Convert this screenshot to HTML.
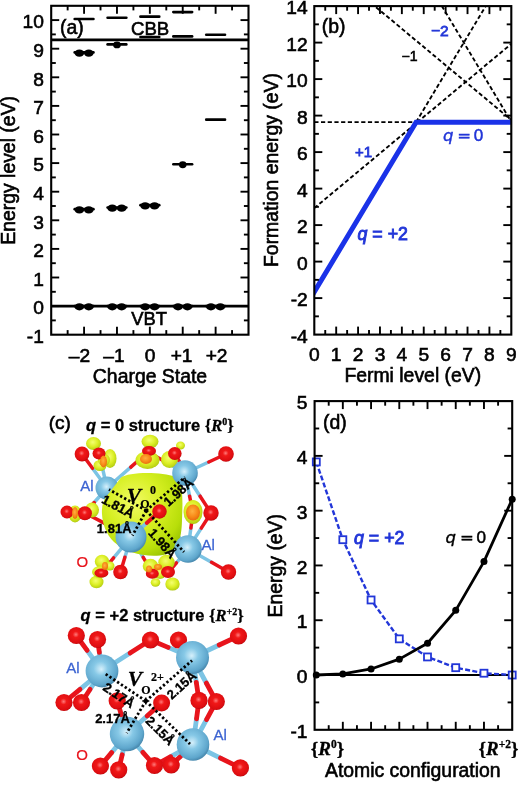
<!DOCTYPE html>
<html><head><meta charset="utf-8"><title>Figure</title>
<style>html,body{margin:0;padding:0;background:#fff;}svg{display:block;}</style></head>
<body><svg width="520" height="790" viewBox="0 0 520 790">
<rect width="520" height="790" fill="#fff"/>
<defs>
<radialGradient id="gAl" cx="0.42" cy="0.38" r="0.62" fx="0.48" fy="0.45">
 <stop offset="0" stop-color="#d6f0fb"/><stop offset="0.35" stop-color="#86c8e6"/><stop offset="0.85" stop-color="#5ea6cc"/><stop offset="1" stop-color="#4a8bb0"/></radialGradient>
<radialGradient id="gO" cx="0.45" cy="0.42" r="0.6" fx="0.48" fy="0.45">
 <stop offset="0" stop-color="#ff7a7a"/><stop offset="0.3" stop-color="#f01818"/><stop offset="0.85" stop-color="#dc0c10"/><stop offset="1" stop-color="#b20408"/></radialGradient>
<radialGradient id="gY" cx="0.45" cy="0.4" r="0.62">
 <stop offset="0" stop-color="#f4ff70"/><stop offset="0.55" stop-color="#dcef26"/><stop offset="0.9" stop-color="#bcd414"/><stop offset="1" stop-color="#a8be10"/></radialGradient>
<radialGradient id="gOr" cx="0.45" cy="0.42" r="0.6">
 <stop offset="0" stop-color="#ffb040"/><stop offset="0.6" stop-color="#f88a18"/><stop offset="1" stop-color="#e66a10"/></radialGradient>
<radialGradient id="gG" cx="0.40" cy="0.35" r="0.75">
 <stop offset="0" stop-color="#f2fb64"/><stop offset="0.45" stop-color="#d6ef22"/><stop offset="0.8" stop-color="#b8de0a"/><stop offset="1" stop-color="#96c000"/></radialGradient>
</defs>
<text x="48.8" y="429.0" font-size="19.0" font-family="'Liberation Sans', sans-serif" font-weight="normal" font-style="normal" fill="#000" text-anchor="start" stroke="#000" stroke-width="0.6">(c)</text>
<text x="86.0" y="431.2" font-size="16.5" font-family="'Liberation Sans', sans-serif" font-weight="bold" fill="#000" stroke="#000" stroke-width="0.3"><tspan font-style="italic">q</tspan> = 0 structure <tspan font-family="'Liberation Serif', serif">{<tspan font-style="italic">R</tspan><tspan font-size="10" dy="-6">0</tspan><tspan dy="6">}</tspan></tspan></text>
<text x="80.6" y="621.2" font-size="16.5" font-family="'Liberation Sans', sans-serif" font-weight="bold" fill="#000" stroke="#000" stroke-width="0.3"><tspan font-style="italic">q</tspan> = +2 structure <tspan font-family="'Liberation Serif', serif">{<tspan font-style="italic">R</tspan><tspan font-size="10" dy="-6">+2</tspan><tspan dy="6">}</tspan></tspan></text>
<line x1="107" y1="488" x2="92.5" y2="468.3" stroke="#7cc4e4" stroke-width="3.5" stroke-linecap="round"/>
<line x1="92.5" y1="468.3" x2="82" y2="454" stroke="#e8141c" stroke-width="3.5" stroke-linecap="round"/>
<line x1="107" y1="488" x2="102.4" y2="467.7" stroke="#7cc4e4" stroke-width="3.5" stroke-linecap="round"/>
<line x1="102.4" y1="467.7" x2="99" y2="453" stroke="#e8141c" stroke-width="3.5" stroke-linecap="round"/>
<line x1="107" y1="488" x2="130.8" y2="467.1" stroke="#7cc4e4" stroke-width="3.5" stroke-linecap="round"/>
<line x1="130.8" y1="467.1" x2="148" y2="452" stroke="#e8141c" stroke-width="3.5" stroke-linecap="round"/>
<line x1="107" y1="488" x2="94.2" y2="502.5" stroke="#7cc4e4" stroke-width="3.5" stroke-linecap="round"/>
<line x1="94.2" y1="502.5" x2="85" y2="513" stroke="#e8141c" stroke-width="3.5" stroke-linecap="round"/>
<line x1="185" y1="473" x2="179.2" y2="461.4" stroke="#7cc4e4" stroke-width="3.5" stroke-linecap="round"/>
<line x1="179.2" y1="461.4" x2="175" y2="453" stroke="#e8141c" stroke-width="3.5" stroke-linecap="round"/>
<line x1="185" y1="473" x2="208.8" y2="462.0" stroke="#7cc4e4" stroke-width="3.5" stroke-linecap="round"/>
<line x1="208.8" y1="462.0" x2="226" y2="454" stroke="#e8141c" stroke-width="3.5" stroke-linecap="round"/>
<line x1="185" y1="473" x2="163.5" y2="460.8" stroke="#7cc4e4" stroke-width="3.5" stroke-linecap="round"/>
<line x1="163.5" y1="460.8" x2="148" y2="452" stroke="#e8141c" stroke-width="3.5" stroke-linecap="round"/>
<line x1="185" y1="473" x2="200.1" y2="496.2" stroke="#7cc4e4" stroke-width="3.5" stroke-linecap="round"/>
<line x1="200.1" y1="496.2" x2="211" y2="513" stroke="#e8141c" stroke-width="3.5" stroke-linecap="round"/>
<line x1="185" y1="473" x2="189.6" y2="496.2" stroke="#7cc4e4" stroke-width="3.5" stroke-linecap="round"/>
<line x1="189.6" y1="496.2" x2="193" y2="513" stroke="#e8141c" stroke-width="3.5" stroke-linecap="round"/>
<line x1="131" y1="537" x2="113.6" y2="557.9" stroke="#7cc4e4" stroke-width="3.5" stroke-linecap="round"/>
<line x1="113.6" y1="557.9" x2="101" y2="573" stroke="#e8141c" stroke-width="3.5" stroke-linecap="round"/>
<line x1="131" y1="537" x2="124.9" y2="557.3" stroke="#7cc4e4" stroke-width="3.5" stroke-linecap="round"/>
<line x1="124.9" y1="557.3" x2="120.5" y2="572" stroke="#e8141c" stroke-width="3.5" stroke-linecap="round"/>
<line x1="131" y1="537" x2="104.3" y2="523.1" stroke="#7cc4e4" stroke-width="3.5" stroke-linecap="round"/>
<line x1="104.3" y1="523.1" x2="85" y2="513" stroke="#e8141c" stroke-width="3.5" stroke-linecap="round"/>
<line x1="131" y1="537" x2="147.5" y2="522.2" stroke="#7cc4e4" stroke-width="3.5" stroke-linecap="round"/>
<line x1="147.5" y1="522.2" x2="159.5" y2="511.5" stroke="#e8141c" stroke-width="3.5" stroke-linecap="round"/>
<line x1="131" y1="537" x2="143.2" y2="557.3" stroke="#7cc4e4" stroke-width="3.5" stroke-linecap="round"/>
<line x1="143.2" y1="557.3" x2="152" y2="572" stroke="#e8141c" stroke-width="3.5" stroke-linecap="round"/>
<line x1="188" y1="549" x2="211.5" y2="562.3" stroke="#7cc4e4" stroke-width="3.5" stroke-linecap="round"/>
<line x1="211.5" y1="562.3" x2="228.5" y2="572" stroke="#e8141c" stroke-width="3.5" stroke-linecap="round"/>
<line x1="188" y1="549" x2="201.3" y2="528.1" stroke="#7cc4e4" stroke-width="3.5" stroke-linecap="round"/>
<line x1="201.3" y1="528.1" x2="211" y2="513" stroke="#e8141c" stroke-width="3.5" stroke-linecap="round"/>
<line x1="188" y1="549" x2="190.9" y2="528.1" stroke="#7cc4e4" stroke-width="3.5" stroke-linecap="round"/>
<line x1="190.9" y1="528.1" x2="193" y2="513" stroke="#e8141c" stroke-width="3.5" stroke-linecap="round"/>
<line x1="188" y1="549" x2="176.4" y2="562.9" stroke="#7cc4e4" stroke-width="3.5" stroke-linecap="round"/>
<line x1="176.4" y1="562.9" x2="168" y2="573" stroke="#e8141c" stroke-width="3.5" stroke-linecap="round"/>
<line x1="188" y1="549" x2="171.5" y2="527.2" stroke="#7cc4e4" stroke-width="3.5" stroke-linecap="round"/>
<line x1="171.5" y1="527.2" x2="159.5" y2="511.5" stroke="#e8141c" stroke-width="3.5" stroke-linecap="round"/>
<ellipse cx="93.5" cy="443.5" rx="7.5" ry="6.5" fill="url(#gY)"/>
<ellipse cx="110" cy="458.5" rx="6.5" ry="9.5" fill="url(#gY)"/>
<ellipse cx="100" cy="465.5" rx="6.5" ry="5.5" fill="url(#gY)"/>
<ellipse cx="104" cy="460" rx="6" ry="6" fill="url(#gY)"/>
<ellipse cx="150" cy="441.5" rx="8.5" ry="6.8" fill="url(#gY)"/>
<ellipse cx="147.5" cy="460" rx="12" ry="9" fill="url(#gY)"/>
<ellipse cx="169.5" cy="459.5" rx="8.5" ry="8.5" fill="url(#gY)"/>
<ellipse cx="180.5" cy="445.5" rx="4.5" ry="4" fill="url(#gY)"/>
<ellipse cx="75" cy="514" rx="6.5" ry="8.5" fill="url(#gY)"/>
<ellipse cx="92" cy="510" rx="7" ry="7.5" fill="url(#gY)"/>
<ellipse cx="193" cy="512" rx="9.5" ry="12" fill="url(#gY)"/>
<ellipse cx="102" cy="561.5" rx="7.2" ry="6.8" fill="url(#gY)"/>
<ellipse cx="96.5" cy="582" rx="7" ry="6.2" fill="url(#gY)"/>
<ellipse cx="110" cy="566" rx="4.5" ry="4.5" fill="url(#gY)"/>
<ellipse cx="100" cy="572" rx="8" ry="6" fill="url(#gY)"/>
<ellipse cx="150.5" cy="566" rx="7.8" ry="7.2" fill="url(#gY)"/>
<ellipse cx="155.5" cy="582.5" rx="4.8" ry="4.2" fill="url(#gY)"/>
<ellipse cx="166.5" cy="562.5" rx="8.2" ry="7.8" fill="url(#gY)"/>
<ellipse cx="172.5" cy="584" rx="7.2" ry="6.6" fill="url(#gY)"/>
<ellipse cx="160" cy="573" rx="6" ry="6" fill="url(#gY)"/>
<circle cx="82" cy="454" r="7.4" fill="url(#gO)"/>
<circle cx="226" cy="454" r="7.8" fill="url(#gO)"/>
<circle cx="67" cy="512" r="6.5" fill="url(#gO)"/>
<circle cx="211" cy="513" r="7.7" fill="url(#gO)"/>
<circle cx="120.5" cy="572" r="7.3" fill="url(#gO)"/>
<circle cx="228.5" cy="572" r="7.7" fill="url(#gO)"/>
<ellipse cx="99" cy="453.5" rx="6.5" ry="6" fill="url(#gO)"/>
<ellipse cx="103.5" cy="461.5" rx="3.5" ry="6" fill="url(#gOr)"/>
<ellipse cx="149" cy="451" rx="7" ry="5" fill="url(#gO)"/>
<ellipse cx="146" cy="459" rx="6" ry="5" fill="url(#gOr)"/>
<ellipse cx="174.8" cy="453.5" rx="6.8" ry="6.5" fill="url(#gO)"/>
<ellipse cx="84.9" cy="513.2" rx="7" ry="7" fill="url(#gO)"/>
<ellipse cx="75" cy="513" rx="3" ry="6" fill="url(#gOr)"/>
<ellipse cx="193" cy="512.5" rx="7" ry="8" fill="url(#gOr)"/>
<ellipse cx="101.4" cy="573" rx="7" ry="4.6" fill="url(#gO)"/>
<ellipse cx="105" cy="566" rx="3" ry="4" fill="url(#gOr)"/>
<ellipse cx="152.3" cy="573.8" rx="6.5" ry="5" fill="url(#gO)"/>
<ellipse cx="168" cy="572" rx="7" ry="6" fill="url(#gO)"/>
<ellipse cx="158" cy="567" rx="4" ry="3" fill="url(#gOr)"/>
<ellipse cx="149" cy="569" rx="3" ry="3.5" fill="url(#gOr)"/>
<circle cx="107" cy="488" r="11.5" fill="url(#gAl)"/>
<path d="M102,514 C101.5,507 103,501 106,497 L121,477.5 C128,472 160,471 176,477 C184,483 182.5,505 182,520 C181.5,540 178,554 160,555.5 C142,557 126,552 114,542 C106,534 102.5,524 102,514 Z" fill="url(#gG)"/>
<line x1="131" y1="537" x2="146.7" y2="523.0" stroke="#7cc4e4" stroke-width="3.8" stroke-linecap="round"/>
<line x1="146.7" y1="523.0" x2="159.5" y2="511.5" stroke="#e8141c" stroke-width="3.8" stroke-linecap="round"/>
<circle cx="159.5" cy="511.5" r="7.2" fill="url(#gO)"/>
<circle cx="185" cy="473" r="12.8" fill="url(#gAl)"/>
<circle cx="131" cy="537" r="15.5" fill="url(#gAl)"/>
<circle cx="188" cy="549" r="13.8" fill="url(#gAl)"/>
<line x1="146.2" y1="510.5" x2="109" y2="489.5" stroke="#000" stroke-width="2.8" stroke-dasharray="2.3 2.3"/>
<line x1="146.2" y1="510.5" x2="185" y2="477.2" stroke="#000" stroke-width="2.8" stroke-dasharray="2.3 2.3"/>
<line x1="146.2" y1="510.5" x2="132.5" y2="535.5" stroke="#000" stroke-width="2.8" stroke-dasharray="2.3 2.3"/>
<line x1="146.2" y1="510.5" x2="184" y2="552" stroke="#000" stroke-width="2.8" stroke-dasharray="2.3 2.3"/>
<text x="134.0" y="502.6" font-size="21.5" font-family="'Liberation Serif', serif" font-weight="bold" font-style="italic" fill="#000" text-anchor="middle" stroke="#000" stroke-width="0.3">V</text>
<text x="153.0" y="494.4" font-size="12" font-family="'Liberation Serif', serif" font-weight="bold" font-style="normal" fill="#000" text-anchor="middle" stroke="#000" stroke-width="0.2">0</text>
<text x="144.8" y="508.0" font-size="12" font-family="'Liberation Serif', serif" font-weight="bold" font-style="normal" fill="#000" text-anchor="middle" stroke="#000" stroke-width="0.2">O</text>
<text x="116.0" y="510.5" font-size="13" font-family="'Liberation Sans', sans-serif" font-weight="bold" font-style="normal" fill="#000" text-anchor="middle" stroke="#000" stroke-width="0.35" transform="rotate(28 116.0 510.5)">1.81Å</text>
<text x="114.2" y="532.6" font-size="13" font-family="'Liberation Sans', sans-serif" font-weight="bold" font-style="normal" fill="#000" text-anchor="middle" stroke="#000" stroke-width="0.35">1.81Å</text>
<text x="181.5" y="495.5" font-size="13" font-family="'Liberation Sans', sans-serif" font-weight="bold" font-style="normal" fill="#000" text-anchor="middle" stroke="#000" stroke-width="0.35" transform="rotate(-42 181.5 495.5)">1.98Å</text>
<text x="159.0" y="546.5" font-size="13" font-family="'Liberation Sans', sans-serif" font-weight="bold" font-style="normal" fill="#000" text-anchor="middle" stroke="#000" stroke-width="0.35" transform="rotate(48 159.0 546.5)">1.98Å</text>
<text x="86.8" y="490.9" font-size="15" font-family="'Liberation Sans', sans-serif" font-weight="normal" font-style="normal" fill="#3c64d2" text-anchor="middle" stroke="#3c64d2" stroke-width="0.3">Al</text>
<text x="208.2" y="550.3" font-size="15" font-family="'Liberation Sans', sans-serif" font-weight="normal" font-style="normal" fill="#3c64d2" text-anchor="middle" stroke="#3c64d2" stroke-width="0.3">Al</text>
<text x="82.4" y="567.3" font-size="15" font-family="'Liberation Sans', sans-serif" font-weight="normal" font-style="normal" fill="#e8141c" text-anchor="middle" stroke="#e8141c" stroke-width="0.2">O</text>
<line x1="102" y1="671" x2="87.1" y2="650.4" stroke="#7cc4e4" stroke-width="4.8" stroke-linecap="round"/>
<line x1="87.1" y1="650.4" x2="76.3" y2="635.5" stroke="#e8141c" stroke-width="4.8" stroke-linecap="round"/>
<line x1="102" y1="671" x2="99.4" y2="652.7" stroke="#7cc4e4" stroke-width="4.8" stroke-linecap="round"/>
<line x1="99.4" y1="652.7" x2="97.5" y2="639.5" stroke="#e8141c" stroke-width="4.8" stroke-linecap="round"/>
<line x1="102" y1="671" x2="130.1" y2="653.0" stroke="#7cc4e4" stroke-width="4.8" stroke-linecap="round"/>
<line x1="130.1" y1="653.0" x2="150.5" y2="640" stroke="#e8141c" stroke-width="4.8" stroke-linecap="round"/>
<line x1="102" y1="671" x2="80.0" y2="689.3" stroke="#7cc4e4" stroke-width="4.8" stroke-linecap="round"/>
<line x1="80.0" y1="689.3" x2="64" y2="702.5" stroke="#e8141c" stroke-width="4.8" stroke-linecap="round"/>
<line x1="102" y1="671" x2="90.1" y2="689.3" stroke="#7cc4e4" stroke-width="4.8" stroke-linecap="round"/>
<line x1="90.1" y1="689.3" x2="81.5" y2="702.5" stroke="#e8141c" stroke-width="4.8" stroke-linecap="round"/>
<line x1="192.5" y1="657.5" x2="184.4" y2="647.4" stroke="#7cc4e4" stroke-width="4.8" stroke-linecap="round"/>
<line x1="184.4" y1="647.4" x2="178.5" y2="640" stroke="#e8141c" stroke-width="4.8" stroke-linecap="round"/>
<line x1="192.5" y1="657.5" x2="219.2" y2="645.0" stroke="#7cc4e4" stroke-width="4.8" stroke-linecap="round"/>
<line x1="219.2" y1="645.0" x2="238.5" y2="636" stroke="#e8141c" stroke-width="4.8" stroke-linecap="round"/>
<line x1="192.5" y1="657.5" x2="168.1" y2="647.4" stroke="#7cc4e4" stroke-width="4.8" stroke-linecap="round"/>
<line x1="168.1" y1="647.4" x2="150.5" y2="640" stroke="#e8141c" stroke-width="4.8" stroke-linecap="round"/>
<line x1="192.5" y1="657.5" x2="196.3" y2="682.4" stroke="#7cc4e4" stroke-width="4.8" stroke-linecap="round"/>
<line x1="196.3" y1="682.4" x2="199" y2="700.4" stroke="#e8141c" stroke-width="4.8" stroke-linecap="round"/>
<line x1="192.5" y1="657.5" x2="206.3" y2="683.0" stroke="#7cc4e4" stroke-width="4.8" stroke-linecap="round"/>
<line x1="206.3" y1="683.0" x2="216.3" y2="701.5" stroke="#e8141c" stroke-width="4.8" stroke-linecap="round"/>
<line x1="127" y1="734" x2="111.6" y2="752.6" stroke="#7cc4e4" stroke-width="4.8" stroke-linecap="round"/>
<line x1="111.6" y1="752.6" x2="100.4" y2="766" stroke="#e8141c" stroke-width="4.8" stroke-linecap="round"/>
<line x1="127" y1="734" x2="122.2" y2="754.8" stroke="#7cc4e4" stroke-width="4.8" stroke-linecap="round"/>
<line x1="122.2" y1="754.8" x2="118.7" y2="769.8" stroke="#e8141c" stroke-width="4.8" stroke-linecap="round"/>
<line x1="127" y1="734" x2="121.3" y2="714.7" stroke="#7cc4e4" stroke-width="4.8" stroke-linecap="round"/>
<line x1="121.3" y1="714.7" x2="117.2" y2="700.8" stroke="#e8141c" stroke-width="4.8" stroke-linecap="round"/>
<line x1="127" y1="734" x2="147.1" y2="716.0" stroke="#7cc4e4" stroke-width="4.8" stroke-linecap="round"/>
<line x1="147.1" y1="716.0" x2="161.6" y2="702.9" stroke="#e8141c" stroke-width="4.8" stroke-linecap="round"/>
<line x1="127" y1="734" x2="142.9" y2="752.3" stroke="#7cc4e4" stroke-width="4.8" stroke-linecap="round"/>
<line x1="142.9" y1="752.3" x2="154.5" y2="765.5" stroke="#e8141c" stroke-width="4.8" stroke-linecap="round"/>
<line x1="193" y1="744.5" x2="220.5" y2="758.1" stroke="#7cc4e4" stroke-width="4.8" stroke-linecap="round"/>
<line x1="220.5" y1="758.1" x2="240.4" y2="767.9" stroke="#e8141c" stroke-width="4.8" stroke-linecap="round"/>
<line x1="193" y1="744.5" x2="196.5" y2="718.9" stroke="#7cc4e4" stroke-width="4.8" stroke-linecap="round"/>
<line x1="196.5" y1="718.9" x2="199" y2="700.4" stroke="#e8141c" stroke-width="4.8" stroke-linecap="round"/>
<line x1="193" y1="744.5" x2="206.5" y2="719.6" stroke="#7cc4e4" stroke-width="4.8" stroke-linecap="round"/>
<line x1="206.5" y1="719.6" x2="216.3" y2="701.5" stroke="#e8141c" stroke-width="4.8" stroke-linecap="round"/>
<line x1="193" y1="744.5" x2="180.4" y2="756.4" stroke="#7cc4e4" stroke-width="4.8" stroke-linecap="round"/>
<line x1="180.4" y1="756.4" x2="171.2" y2="765" stroke="#e8141c" stroke-width="4.8" stroke-linecap="round"/>
<line x1="193" y1="744.5" x2="170.7" y2="756.7" stroke="#7cc4e4" stroke-width="4.8" stroke-linecap="round"/>
<line x1="170.7" y1="756.7" x2="154.5" y2="765.5" stroke="#e8141c" stroke-width="4.8" stroke-linecap="round"/>
<circle cx="76.3" cy="635.5" r="8.6" fill="url(#gO)"/>
<circle cx="97.5" cy="639.5" r="8.6" fill="url(#gO)"/>
<circle cx="150.5" cy="640" r="8.6" fill="url(#gO)"/>
<circle cx="178.5" cy="640" r="8.6" fill="url(#gO)"/>
<circle cx="238.5" cy="636" r="8.6" fill="url(#gO)"/>
<circle cx="64" cy="702.5" r="8.6" fill="url(#gO)"/>
<circle cx="81.5" cy="702.5" r="8.6" fill="url(#gO)"/>
<circle cx="117.2" cy="700.8" r="8.6" fill="url(#gO)"/>
<circle cx="199" cy="700.4" r="8.6" fill="url(#gO)"/>
<circle cx="216.3" cy="701.5" r="8.6" fill="url(#gO)"/>
<circle cx="100.4" cy="766" r="8.6" fill="url(#gO)"/>
<circle cx="118.7" cy="769.8" r="8.6" fill="url(#gO)"/>
<circle cx="154.5" cy="765.5" r="8.6" fill="url(#gO)"/>
<circle cx="171.2" cy="765" r="8.6" fill="url(#gO)"/>
<circle cx="240.4" cy="767.9" r="8.6" fill="url(#gO)"/>
<circle cx="102" cy="671" r="16.4" fill="url(#gAl)"/>
<circle cx="192.5" cy="657.5" r="16.5" fill="url(#gAl)"/>
<circle cx="161.6" cy="702.9" r="8.5" fill="url(#gO)"/>
<circle cx="127" cy="734" r="17.2" fill="url(#gAl)"/>
<circle cx="193" cy="744.5" r="16.3" fill="url(#gAl)"/>
<line x1="145.8" y1="701" x2="104.5" y2="673.3" stroke="#000" stroke-width="2.8" stroke-dasharray="2.3 2.3"/>
<line x1="145.8" y1="701" x2="192" y2="660.5" stroke="#000" stroke-width="2.8" stroke-dasharray="2.3 2.3"/>
<line x1="145.8" y1="701" x2="126.7" y2="733" stroke="#000" stroke-width="2.8" stroke-dasharray="2.3 2.3"/>
<line x1="145.8" y1="701" x2="190" y2="744" stroke="#000" stroke-width="2.8" stroke-dasharray="2.3 2.3"/>
<path d="M142.3,701 h7 M145.8,697.5 v7" stroke="#000" stroke-width="1.6"/>
<text x="135.0" y="686.0" font-size="21.5" font-family="'Liberation Serif', serif" font-weight="bold" font-style="italic" fill="#000" text-anchor="middle" stroke="#000" stroke-width="0.3">V</text>
<text x="157.5" y="680.5" font-size="12" font-family="'Liberation Serif', serif" font-weight="bold" font-style="normal" fill="#000" text-anchor="middle" stroke="#000" stroke-width="0.2">2+</text>
<text x="145.8" y="693.5" font-size="12" font-family="'Liberation Serif', serif" font-weight="bold" font-style="normal" fill="#000" text-anchor="middle" stroke="#000" stroke-width="0.2">O</text>
<text x="116.4" y="699.1" font-size="13" font-family="'Liberation Sans', sans-serif" font-weight="bold" font-style="normal" fill="#000" text-anchor="middle" stroke="#000" stroke-width="0.35" transform="rotate(34 116.4 699.1)">2.17Å</text>
<text x="112.5" y="723.0" font-size="13" font-family="'Liberation Sans', sans-serif" font-weight="bold" font-style="normal" fill="#000" text-anchor="middle" stroke="#000" stroke-width="0.35">2.17Å</text>
<text x="184.6" y="688.5" font-size="13" font-family="'Liberation Sans', sans-serif" font-weight="bold" font-style="normal" fill="#000" text-anchor="middle" stroke="#000" stroke-width="0.35" transform="rotate(-42 184.6 688.5)">2.15Å</text>
<text x="157.0" y="734.0" font-size="13" font-family="'Liberation Sans', sans-serif" font-weight="bold" font-style="normal" fill="#000" text-anchor="middle" stroke="#000" stroke-width="0.35" transform="rotate(45 157.0 734.0)">2.15Å</text>
<text x="73.0" y="672.7" font-size="15" font-family="'Liberation Sans', sans-serif" font-weight="normal" font-style="normal" fill="#3c64d2" text-anchor="middle" stroke="#3c64d2" stroke-width="0.3">Al</text>
<text x="220.2" y="740.4" font-size="15" font-family="'Liberation Sans', sans-serif" font-weight="normal" font-style="normal" fill="#3c64d2" text-anchor="middle" stroke="#3c64d2" stroke-width="0.3">Al</text>
<text x="82.1" y="759.8" font-size="15" font-family="'Liberation Sans', sans-serif" font-weight="normal" font-style="normal" fill="#e8141c" text-anchor="middle" stroke="#e8141c" stroke-width="0.2">O</text>
<line x1="67.64" y1="334.70" x2="67.64" y2="330.10" stroke="#000" stroke-width="1.9"/>
<line x1="67.64" y1="5.80" x2="67.64" y2="10.40" stroke="#000" stroke-width="1.9"/>
<line x1="84.08" y1="334.70" x2="84.08" y2="326.70" stroke="#000" stroke-width="1.9"/>
<line x1="84.08" y1="5.80" x2="84.08" y2="13.80" stroke="#000" stroke-width="1.9"/>
<line x1="100.53" y1="334.70" x2="100.53" y2="330.10" stroke="#000" stroke-width="1.9"/>
<line x1="100.53" y1="5.80" x2="100.53" y2="10.40" stroke="#000" stroke-width="1.9"/>
<line x1="116.97" y1="334.70" x2="116.97" y2="326.70" stroke="#000" stroke-width="1.9"/>
<line x1="116.97" y1="5.80" x2="116.97" y2="13.80" stroke="#000" stroke-width="1.9"/>
<line x1="133.41" y1="334.70" x2="133.41" y2="330.10" stroke="#000" stroke-width="1.9"/>
<line x1="133.41" y1="5.80" x2="133.41" y2="10.40" stroke="#000" stroke-width="1.9"/>
<line x1="149.85" y1="334.70" x2="149.85" y2="326.70" stroke="#000" stroke-width="1.9"/>
<line x1="149.85" y1="5.80" x2="149.85" y2="13.80" stroke="#000" stroke-width="1.9"/>
<line x1="166.29" y1="334.70" x2="166.29" y2="330.10" stroke="#000" stroke-width="1.9"/>
<line x1="166.29" y1="5.80" x2="166.29" y2="10.40" stroke="#000" stroke-width="1.9"/>
<line x1="182.73" y1="334.70" x2="182.73" y2="326.70" stroke="#000" stroke-width="1.9"/>
<line x1="182.73" y1="5.80" x2="182.73" y2="13.80" stroke="#000" stroke-width="1.9"/>
<line x1="199.18" y1="334.70" x2="199.18" y2="330.10" stroke="#000" stroke-width="1.9"/>
<line x1="199.18" y1="5.80" x2="199.18" y2="10.40" stroke="#000" stroke-width="1.9"/>
<line x1="215.62" y1="334.70" x2="215.62" y2="326.70" stroke="#000" stroke-width="1.9"/>
<line x1="215.62" y1="5.80" x2="215.62" y2="13.80" stroke="#000" stroke-width="1.9"/>
<line x1="232.06" y1="334.70" x2="232.06" y2="330.10" stroke="#000" stroke-width="1.9"/>
<line x1="232.06" y1="5.80" x2="232.06" y2="10.40" stroke="#000" stroke-width="1.9"/>
<line x1="51.20" y1="320.40" x2="55.80" y2="320.40" stroke="#000" stroke-width="1.9"/>
<line x1="248.50" y1="320.40" x2="243.90" y2="320.40" stroke="#000" stroke-width="1.9"/>
<line x1="51.20" y1="306.10" x2="59.20" y2="306.10" stroke="#000" stroke-width="1.9"/>
<line x1="248.50" y1="306.10" x2="240.50" y2="306.10" stroke="#000" stroke-width="1.9"/>
<line x1="51.20" y1="291.80" x2="55.80" y2="291.80" stroke="#000" stroke-width="1.9"/>
<line x1="248.50" y1="291.80" x2="243.90" y2="291.80" stroke="#000" stroke-width="1.9"/>
<line x1="51.20" y1="277.50" x2="59.20" y2="277.50" stroke="#000" stroke-width="1.9"/>
<line x1="248.50" y1="277.50" x2="240.50" y2="277.50" stroke="#000" stroke-width="1.9"/>
<line x1="51.20" y1="263.20" x2="55.80" y2="263.20" stroke="#000" stroke-width="1.9"/>
<line x1="248.50" y1="263.20" x2="243.90" y2="263.20" stroke="#000" stroke-width="1.9"/>
<line x1="51.20" y1="248.90" x2="59.20" y2="248.90" stroke="#000" stroke-width="1.9"/>
<line x1="248.50" y1="248.90" x2="240.50" y2="248.90" stroke="#000" stroke-width="1.9"/>
<line x1="51.20" y1="234.60" x2="55.80" y2="234.60" stroke="#000" stroke-width="1.9"/>
<line x1="248.50" y1="234.60" x2="243.90" y2="234.60" stroke="#000" stroke-width="1.9"/>
<line x1="51.20" y1="220.30" x2="59.20" y2="220.30" stroke="#000" stroke-width="1.9"/>
<line x1="248.50" y1="220.30" x2="240.50" y2="220.30" stroke="#000" stroke-width="1.9"/>
<line x1="51.20" y1="206.00" x2="55.80" y2="206.00" stroke="#000" stroke-width="1.9"/>
<line x1="248.50" y1="206.00" x2="243.90" y2="206.00" stroke="#000" stroke-width="1.9"/>
<line x1="51.20" y1="191.70" x2="59.20" y2="191.70" stroke="#000" stroke-width="1.9"/>
<line x1="248.50" y1="191.70" x2="240.50" y2="191.70" stroke="#000" stroke-width="1.9"/>
<line x1="51.20" y1="177.40" x2="55.80" y2="177.40" stroke="#000" stroke-width="1.9"/>
<line x1="248.50" y1="177.40" x2="243.90" y2="177.40" stroke="#000" stroke-width="1.9"/>
<line x1="51.20" y1="163.10" x2="59.20" y2="163.10" stroke="#000" stroke-width="1.9"/>
<line x1="248.50" y1="163.10" x2="240.50" y2="163.10" stroke="#000" stroke-width="1.9"/>
<line x1="51.20" y1="148.80" x2="55.80" y2="148.80" stroke="#000" stroke-width="1.9"/>
<line x1="248.50" y1="148.80" x2="243.90" y2="148.80" stroke="#000" stroke-width="1.9"/>
<line x1="51.20" y1="134.50" x2="59.20" y2="134.50" stroke="#000" stroke-width="1.9"/>
<line x1="248.50" y1="134.50" x2="240.50" y2="134.50" stroke="#000" stroke-width="1.9"/>
<line x1="51.20" y1="120.20" x2="55.80" y2="120.20" stroke="#000" stroke-width="1.9"/>
<line x1="248.50" y1="120.20" x2="243.90" y2="120.20" stroke="#000" stroke-width="1.9"/>
<line x1="51.20" y1="105.90" x2="59.20" y2="105.90" stroke="#000" stroke-width="1.9"/>
<line x1="248.50" y1="105.90" x2="240.50" y2="105.90" stroke="#000" stroke-width="1.9"/>
<line x1="51.20" y1="91.60" x2="55.80" y2="91.60" stroke="#000" stroke-width="1.9"/>
<line x1="248.50" y1="91.60" x2="243.90" y2="91.60" stroke="#000" stroke-width="1.9"/>
<line x1="51.20" y1="77.30" x2="59.20" y2="77.30" stroke="#000" stroke-width="1.9"/>
<line x1="248.50" y1="77.30" x2="240.50" y2="77.30" stroke="#000" stroke-width="1.9"/>
<line x1="51.20" y1="63.00" x2="55.80" y2="63.00" stroke="#000" stroke-width="1.9"/>
<line x1="248.50" y1="63.00" x2="243.90" y2="63.00" stroke="#000" stroke-width="1.9"/>
<line x1="51.20" y1="48.70" x2="59.20" y2="48.70" stroke="#000" stroke-width="1.9"/>
<line x1="248.50" y1="48.70" x2="240.50" y2="48.70" stroke="#000" stroke-width="1.9"/>
<line x1="51.20" y1="34.40" x2="55.80" y2="34.40" stroke="#000" stroke-width="1.9"/>
<line x1="248.50" y1="34.40" x2="243.90" y2="34.40" stroke="#000" stroke-width="1.9"/>
<line x1="51.20" y1="20.10" x2="59.20" y2="20.10" stroke="#000" stroke-width="1.9"/>
<line x1="248.50" y1="20.10" x2="240.50" y2="20.10" stroke="#000" stroke-width="1.9"/>
<line x1="51.20" y1="39.83" x2="248.50" y2="39.83" stroke="#000" stroke-width="2.8"/>
<line x1="51.20" y1="306.10" x2="248.50" y2="306.10" stroke="#000" stroke-width="2.8"/>
<line x1="74.68" y1="306.10" x2="93.48" y2="306.10" stroke="#000" stroke-width="2.6" stroke-linecap="round"/>
<ellipse cx="79.38" cy="306.80" rx="4.8" ry="3.6" fill="#000"/>
<ellipse cx="88.78" cy="306.80" rx="4.8" ry="3.6" fill="#000"/>
<line x1="107.57" y1="306.10" x2="126.37" y2="306.10" stroke="#000" stroke-width="2.6" stroke-linecap="round"/>
<ellipse cx="112.27" cy="306.80" rx="4.8" ry="3.6" fill="#000"/>
<ellipse cx="121.67" cy="306.80" rx="4.8" ry="3.6" fill="#000"/>
<line x1="140.45" y1="306.10" x2="159.25" y2="306.10" stroke="#000" stroke-width="2.6" stroke-linecap="round"/>
<ellipse cx="145.15" cy="306.80" rx="4.8" ry="3.6" fill="#000"/>
<ellipse cx="154.55" cy="306.80" rx="4.8" ry="3.6" fill="#000"/>
<line x1="173.33" y1="306.10" x2="192.13" y2="306.10" stroke="#000" stroke-width="2.6" stroke-linecap="round"/>
<ellipse cx="178.03" cy="306.80" rx="4.8" ry="3.6" fill="#000"/>
<ellipse cx="187.43" cy="306.80" rx="4.8" ry="3.6" fill="#000"/>
<line x1="206.22" y1="306.10" x2="225.02" y2="306.10" stroke="#000" stroke-width="2.6" stroke-linecap="round"/>
<ellipse cx="210.92" cy="306.80" rx="4.8" ry="3.6" fill="#000"/>
<ellipse cx="220.32" cy="306.80" rx="4.8" ry="3.6" fill="#000"/>
<line x1="74.68" y1="52.42" x2="93.48" y2="52.42" stroke="#000" stroke-width="2.6" stroke-linecap="round"/>
<ellipse cx="79.38" cy="53.12" rx="4.8" ry="3.6" fill="#000"/>
<ellipse cx="88.78" cy="53.12" rx="4.8" ry="3.6" fill="#000"/>
<line x1="74.68" y1="18.96" x2="93.48" y2="18.96" stroke="#000" stroke-width="2.6" stroke-linecap="round"/>
<line x1="74.68" y1="209.15" x2="93.48" y2="209.15" stroke="#000" stroke-width="2.6" stroke-linecap="round"/>
<ellipse cx="79.38" cy="209.85" rx="4.8" ry="3.6" fill="#000"/>
<ellipse cx="88.78" cy="209.85" rx="4.8" ry="3.6" fill="#000"/>
<line x1="107.57" y1="44.41" x2="126.37" y2="44.41" stroke="#000" stroke-width="2.6" stroke-linecap="round"/>
<ellipse cx="116.97" cy="44.91" rx="3.8" ry="3.4" fill="#000"/>
<line x1="107.57" y1="17.81" x2="126.37" y2="17.81" stroke="#000" stroke-width="2.6" stroke-linecap="round"/>
<line x1="107.57" y1="207.43" x2="126.37" y2="207.43" stroke="#000" stroke-width="2.6" stroke-linecap="round"/>
<ellipse cx="112.27" cy="208.13" rx="4.8" ry="3.6" fill="#000"/>
<ellipse cx="121.67" cy="208.13" rx="4.8" ry="3.6" fill="#000"/>
<line x1="140.45" y1="16.67" x2="159.25" y2="16.67" stroke="#000" stroke-width="2.6" stroke-linecap="round"/>
<line x1="140.45" y1="36.97" x2="159.25" y2="36.97" stroke="#000" stroke-width="2.6" stroke-linecap="round"/>
<line x1="140.45" y1="205.14" x2="159.25" y2="205.14" stroke="#000" stroke-width="2.6" stroke-linecap="round"/>
<ellipse cx="145.15" cy="205.84" rx="4.8" ry="3.6" fill="#000"/>
<ellipse cx="154.55" cy="205.84" rx="4.8" ry="3.6" fill="#000"/>
<line x1="173.33" y1="12.09" x2="192.13" y2="12.09" stroke="#000" stroke-width="2.6" stroke-linecap="round"/>
<line x1="173.33" y1="36.40" x2="192.13" y2="36.40" stroke="#000" stroke-width="2.6" stroke-linecap="round"/>
<line x1="173.33" y1="164.24" x2="192.13" y2="164.24" stroke="#000" stroke-width="2.6" stroke-linecap="round"/>
<ellipse cx="182.73" cy="164.74" rx="3.8" ry="3.4" fill="#000"/>
<line x1="206.22" y1="34.69" x2="225.02" y2="34.69" stroke="#000" stroke-width="2.6" stroke-linecap="round"/>
<line x1="206.22" y1="119.63" x2="225.02" y2="119.63" stroke="#000" stroke-width="2.6" stroke-linecap="round"/>
<rect x="51.20" y="5.80" width="197.30" height="328.90" fill="none" stroke="#000" stroke-width="2.1"/>
<text x="131.00" y="35.00" font-size="18.6" text-anchor="start" fill="#000" font-weight="normal" font-style="normal" font-family="'Liberation Sans', sans-serif" stroke="#000" stroke-width="0.6">CBB</text>
<text x="131.20" y="324.90" font-size="18.4" text-anchor="start" fill="#000" font-weight="normal" font-style="normal" font-family="'Liberation Sans', sans-serif" stroke="#000" stroke-width="0.6">VBT</text>
<text x="60.00" y="33.60" font-size="19.4" text-anchor="start" fill="#000" font-weight="normal" font-style="normal" font-family="'Liberation Sans', sans-serif" stroke="#000" stroke-width="0.6">(a)</text>
<text x="43.90" y="343.00" font-size="19.2" text-anchor="end" fill="#000" font-weight="normal" font-style="normal" font-family="'Liberation Sans', sans-serif" stroke="#000" stroke-width="0.6">-1</text>
<text x="43.90" y="314.40" font-size="19.2" text-anchor="end" fill="#000" font-weight="normal" font-style="normal" font-family="'Liberation Sans', sans-serif" stroke="#000" stroke-width="0.6">0</text>
<text x="43.90" y="285.80" font-size="19.2" text-anchor="end" fill="#000" font-weight="normal" font-style="normal" font-family="'Liberation Sans', sans-serif" stroke="#000" stroke-width="0.6">1</text>
<text x="43.90" y="257.20" font-size="19.2" text-anchor="end" fill="#000" font-weight="normal" font-style="normal" font-family="'Liberation Sans', sans-serif" stroke="#000" stroke-width="0.6">2</text>
<text x="43.90" y="228.60" font-size="19.2" text-anchor="end" fill="#000" font-weight="normal" font-style="normal" font-family="'Liberation Sans', sans-serif" stroke="#000" stroke-width="0.6">3</text>
<text x="43.90" y="200.00" font-size="19.2" text-anchor="end" fill="#000" font-weight="normal" font-style="normal" font-family="'Liberation Sans', sans-serif" stroke="#000" stroke-width="0.6">4</text>
<text x="43.90" y="171.40" font-size="19.2" text-anchor="end" fill="#000" font-weight="normal" font-style="normal" font-family="'Liberation Sans', sans-serif" stroke="#000" stroke-width="0.6">5</text>
<text x="43.90" y="142.80" font-size="19.2" text-anchor="end" fill="#000" font-weight="normal" font-style="normal" font-family="'Liberation Sans', sans-serif" stroke="#000" stroke-width="0.6">6</text>
<text x="43.90" y="114.20" font-size="19.2" text-anchor="end" fill="#000" font-weight="normal" font-style="normal" font-family="'Liberation Sans', sans-serif" stroke="#000" stroke-width="0.6">7</text>
<text x="43.90" y="85.60" font-size="19.2" text-anchor="end" fill="#000" font-weight="normal" font-style="normal" font-family="'Liberation Sans', sans-serif" stroke="#000" stroke-width="0.6">8</text>
<text x="43.90" y="57.00" font-size="19.2" text-anchor="end" fill="#000" font-weight="normal" font-style="normal" font-family="'Liberation Sans', sans-serif" stroke="#000" stroke-width="0.6">9</text>
<text x="43.90" y="28.40" font-size="19.2" text-anchor="end" fill="#000" font-weight="normal" font-style="normal" font-family="'Liberation Sans', sans-serif" stroke="#000" stroke-width="0.6">10</text>
<text x="79.40" y="361.50" font-size="19.2" text-anchor="middle" fill="#000" font-weight="normal" font-style="normal" font-family="'Liberation Sans', sans-serif" stroke="#000" stroke-width="0.6">–2</text>
<text x="113.90" y="361.50" font-size="19.2" text-anchor="middle" fill="#000" font-weight="normal" font-style="normal" font-family="'Liberation Sans', sans-serif" stroke="#000" stroke-width="0.6">–1</text>
<text x="150.00" y="361.50" font-size="19.2" text-anchor="middle" fill="#000" font-weight="normal" font-style="normal" font-family="'Liberation Sans', sans-serif" stroke="#000" stroke-width="0.6">0</text>
<text x="181.60" y="361.50" font-size="19.2" text-anchor="middle" fill="#000" font-weight="normal" font-style="normal" font-family="'Liberation Sans', sans-serif" stroke="#000" stroke-width="0.6">+1</text>
<text x="216.60" y="361.50" font-size="19.2" text-anchor="middle" fill="#000" font-weight="normal" font-style="normal" font-family="'Liberation Sans', sans-serif" stroke="#000" stroke-width="0.6">+2</text>
<text x="150.00" y="382.50" font-size="19.4" text-anchor="middle" fill="#000" font-weight="normal" font-style="normal" font-family="'Liberation Sans', sans-serif" stroke="#000" stroke-width="0.6">Charge State</text>
<text x="15.20" y="170.40" font-size="19.4" text-anchor="middle" fill="#000" font-weight="normal" font-style="normal" font-family="'Liberation Sans', sans-serif" stroke="#000" stroke-width="0.6" transform="rotate(-90 15.2 170.4)">Energy level (eV)</text>
<defs><clipPath id="cb"><rect x="314.3" y="6.1" width="197.0" height="328.5"/></clipPath></defs>
<g clip-path="url(#cb)">
<line x1="314.30" y1="122.17" x2="416.08" y2="122.17" stroke="#000" stroke-width="1.9" stroke-dasharray="4.2 2.5"/>
<line x1="314.30" y1="208.13" x2="511.30" y2="43.88" stroke="#000" stroke-width="1.9" stroke-dasharray="4.2 2.5"/>
<line x1="416.08" y1="122.17" x2="511.30" y2="-36.60" stroke="#000" stroke-width="1.9" stroke-dasharray="4.2 2.5"/>
<line x1="314.30" y1="-44.27" x2="511.30" y2="119.98" stroke="#000" stroke-width="1.9" stroke-dasharray="4.2 2.5"/>
<line x1="314.30" y1="-206.69" x2="511.30" y2="121.80" stroke="#000" stroke-width="1.9" stroke-dasharray="4.2 2.5"/>
<polyline points="303.36,310.15 416.08,122.17 522.24,122.17" fill="none" stroke="#1a32e8" stroke-width="5" stroke-linejoin="miter"/>
</g>
<line x1="325.24" y1="334.60" x2="325.24" y2="330.00" stroke="#000" stroke-width="1.9"/>
<line x1="325.24" y1="6.10" x2="325.24" y2="10.70" stroke="#000" stroke-width="1.9"/>
<line x1="336.19" y1="334.60" x2="336.19" y2="326.60" stroke="#000" stroke-width="1.9"/>
<line x1="336.19" y1="6.10" x2="336.19" y2="14.10" stroke="#000" stroke-width="1.9"/>
<line x1="347.13" y1="334.60" x2="347.13" y2="330.00" stroke="#000" stroke-width="1.9"/>
<line x1="347.13" y1="6.10" x2="347.13" y2="10.70" stroke="#000" stroke-width="1.9"/>
<line x1="358.08" y1="334.60" x2="358.08" y2="326.60" stroke="#000" stroke-width="1.9"/>
<line x1="358.08" y1="6.10" x2="358.08" y2="14.10" stroke="#000" stroke-width="1.9"/>
<line x1="369.02" y1="334.60" x2="369.02" y2="330.00" stroke="#000" stroke-width="1.9"/>
<line x1="369.02" y1="6.10" x2="369.02" y2="10.70" stroke="#000" stroke-width="1.9"/>
<line x1="379.97" y1="334.60" x2="379.97" y2="326.60" stroke="#000" stroke-width="1.9"/>
<line x1="379.97" y1="6.10" x2="379.97" y2="14.10" stroke="#000" stroke-width="1.9"/>
<line x1="390.91" y1="334.60" x2="390.91" y2="330.00" stroke="#000" stroke-width="1.9"/>
<line x1="390.91" y1="6.10" x2="390.91" y2="10.70" stroke="#000" stroke-width="1.9"/>
<line x1="401.86" y1="334.60" x2="401.86" y2="326.60" stroke="#000" stroke-width="1.9"/>
<line x1="401.86" y1="6.10" x2="401.86" y2="14.10" stroke="#000" stroke-width="1.9"/>
<line x1="412.80" y1="334.60" x2="412.80" y2="330.00" stroke="#000" stroke-width="1.9"/>
<line x1="412.80" y1="6.10" x2="412.80" y2="10.70" stroke="#000" stroke-width="1.9"/>
<line x1="423.74" y1="334.60" x2="423.74" y2="326.60" stroke="#000" stroke-width="1.9"/>
<line x1="423.74" y1="6.10" x2="423.74" y2="14.10" stroke="#000" stroke-width="1.9"/>
<line x1="434.69" y1="334.60" x2="434.69" y2="330.00" stroke="#000" stroke-width="1.9"/>
<line x1="434.69" y1="6.10" x2="434.69" y2="10.70" stroke="#000" stroke-width="1.9"/>
<line x1="445.63" y1="334.60" x2="445.63" y2="326.60" stroke="#000" stroke-width="1.9"/>
<line x1="445.63" y1="6.10" x2="445.63" y2="14.10" stroke="#000" stroke-width="1.9"/>
<line x1="456.58" y1="334.60" x2="456.58" y2="330.00" stroke="#000" stroke-width="1.9"/>
<line x1="456.58" y1="6.10" x2="456.58" y2="10.70" stroke="#000" stroke-width="1.9"/>
<line x1="467.52" y1="334.60" x2="467.52" y2="326.60" stroke="#000" stroke-width="1.9"/>
<line x1="467.52" y1="6.10" x2="467.52" y2="14.10" stroke="#000" stroke-width="1.9"/>
<line x1="478.47" y1="334.60" x2="478.47" y2="330.00" stroke="#000" stroke-width="1.9"/>
<line x1="478.47" y1="6.10" x2="478.47" y2="10.70" stroke="#000" stroke-width="1.9"/>
<line x1="489.41" y1="334.60" x2="489.41" y2="326.60" stroke="#000" stroke-width="1.9"/>
<line x1="489.41" y1="6.10" x2="489.41" y2="14.10" stroke="#000" stroke-width="1.9"/>
<line x1="500.36" y1="334.60" x2="500.36" y2="330.00" stroke="#000" stroke-width="1.9"/>
<line x1="500.36" y1="6.10" x2="500.36" y2="10.70" stroke="#000" stroke-width="1.9"/>
<line x1="314.30" y1="316.35" x2="318.90" y2="316.35" stroke="#000" stroke-width="1.9"/>
<line x1="511.30" y1="316.35" x2="506.70" y2="316.35" stroke="#000" stroke-width="1.9"/>
<line x1="314.30" y1="298.10" x2="322.30" y2="298.10" stroke="#000" stroke-width="1.9"/>
<line x1="511.30" y1="298.10" x2="503.30" y2="298.10" stroke="#000" stroke-width="1.9"/>
<line x1="314.30" y1="279.85" x2="318.90" y2="279.85" stroke="#000" stroke-width="1.9"/>
<line x1="511.30" y1="279.85" x2="506.70" y2="279.85" stroke="#000" stroke-width="1.9"/>
<line x1="314.30" y1="261.60" x2="322.30" y2="261.60" stroke="#000" stroke-width="1.9"/>
<line x1="511.30" y1="261.60" x2="503.30" y2="261.60" stroke="#000" stroke-width="1.9"/>
<line x1="314.30" y1="243.35" x2="318.90" y2="243.35" stroke="#000" stroke-width="1.9"/>
<line x1="511.30" y1="243.35" x2="506.70" y2="243.35" stroke="#000" stroke-width="1.9"/>
<line x1="314.30" y1="225.10" x2="322.30" y2="225.10" stroke="#000" stroke-width="1.9"/>
<line x1="511.30" y1="225.10" x2="503.30" y2="225.10" stroke="#000" stroke-width="1.9"/>
<line x1="314.30" y1="206.85" x2="318.90" y2="206.85" stroke="#000" stroke-width="1.9"/>
<line x1="511.30" y1="206.85" x2="506.70" y2="206.85" stroke="#000" stroke-width="1.9"/>
<line x1="314.30" y1="188.60" x2="322.30" y2="188.60" stroke="#000" stroke-width="1.9"/>
<line x1="511.30" y1="188.60" x2="503.30" y2="188.60" stroke="#000" stroke-width="1.9"/>
<line x1="314.30" y1="170.35" x2="318.90" y2="170.35" stroke="#000" stroke-width="1.9"/>
<line x1="511.30" y1="170.35" x2="506.70" y2="170.35" stroke="#000" stroke-width="1.9"/>
<line x1="314.30" y1="152.10" x2="322.30" y2="152.10" stroke="#000" stroke-width="1.9"/>
<line x1="511.30" y1="152.10" x2="503.30" y2="152.10" stroke="#000" stroke-width="1.9"/>
<line x1="314.30" y1="133.85" x2="318.90" y2="133.85" stroke="#000" stroke-width="1.9"/>
<line x1="511.30" y1="133.85" x2="506.70" y2="133.85" stroke="#000" stroke-width="1.9"/>
<line x1="314.30" y1="115.60" x2="322.30" y2="115.60" stroke="#000" stroke-width="1.9"/>
<line x1="511.30" y1="115.60" x2="503.30" y2="115.60" stroke="#000" stroke-width="1.9"/>
<line x1="314.30" y1="97.35" x2="318.90" y2="97.35" stroke="#000" stroke-width="1.9"/>
<line x1="511.30" y1="97.35" x2="506.70" y2="97.35" stroke="#000" stroke-width="1.9"/>
<line x1="314.30" y1="79.10" x2="322.30" y2="79.10" stroke="#000" stroke-width="1.9"/>
<line x1="511.30" y1="79.10" x2="503.30" y2="79.10" stroke="#000" stroke-width="1.9"/>
<line x1="314.30" y1="60.85" x2="318.90" y2="60.85" stroke="#000" stroke-width="1.9"/>
<line x1="511.30" y1="60.85" x2="506.70" y2="60.85" stroke="#000" stroke-width="1.9"/>
<line x1="314.30" y1="42.60" x2="322.30" y2="42.60" stroke="#000" stroke-width="1.9"/>
<line x1="511.30" y1="42.60" x2="503.30" y2="42.60" stroke="#000" stroke-width="1.9"/>
<line x1="314.30" y1="24.35" x2="318.90" y2="24.35" stroke="#000" stroke-width="1.9"/>
<line x1="511.30" y1="24.35" x2="506.70" y2="24.35" stroke="#000" stroke-width="1.9"/>
<rect x="314.30" y="6.10" width="197.00" height="328.50" fill="none" stroke="#000" stroke-width="2.1"/>
<text x="307.70" y="342.80" font-size="19.2" text-anchor="end" fill="#000" font-weight="normal" font-style="normal" font-family="'Liberation Sans', sans-serif" stroke="#000" stroke-width="0.6">-4</text>
<text x="307.70" y="306.30" font-size="19.2" text-anchor="end" fill="#000" font-weight="normal" font-style="normal" font-family="'Liberation Sans', sans-serif" stroke="#000" stroke-width="0.6">-2</text>
<text x="307.70" y="269.80" font-size="19.2" text-anchor="end" fill="#000" font-weight="normal" font-style="normal" font-family="'Liberation Sans', sans-serif" stroke="#000" stroke-width="0.6">0</text>
<text x="307.70" y="233.30" font-size="19.2" text-anchor="end" fill="#000" font-weight="normal" font-style="normal" font-family="'Liberation Sans', sans-serif" stroke="#000" stroke-width="0.6">2</text>
<text x="307.70" y="196.80" font-size="19.2" text-anchor="end" fill="#000" font-weight="normal" font-style="normal" font-family="'Liberation Sans', sans-serif" stroke="#000" stroke-width="0.6">4</text>
<text x="307.70" y="160.30" font-size="19.2" text-anchor="end" fill="#000" font-weight="normal" font-style="normal" font-family="'Liberation Sans', sans-serif" stroke="#000" stroke-width="0.6">6</text>
<text x="307.70" y="123.80" font-size="19.2" text-anchor="end" fill="#000" font-weight="normal" font-style="normal" font-family="'Liberation Sans', sans-serif" stroke="#000" stroke-width="0.6">8</text>
<text x="307.70" y="87.30" font-size="19.2" text-anchor="end" fill="#000" font-weight="normal" font-style="normal" font-family="'Liberation Sans', sans-serif" stroke="#000" stroke-width="0.6">10</text>
<text x="307.70" y="50.80" font-size="19.2" text-anchor="end" fill="#000" font-weight="normal" font-style="normal" font-family="'Liberation Sans', sans-serif" stroke="#000" stroke-width="0.6">12</text>
<text x="307.70" y="14.30" font-size="19.2" text-anchor="end" fill="#000" font-weight="normal" font-style="normal" font-family="'Liberation Sans', sans-serif" stroke="#000" stroke-width="0.6">14</text>
<text x="314.30" y="360.80" font-size="19.2" text-anchor="middle" fill="#000" font-weight="normal" font-style="normal" font-family="'Liberation Sans', sans-serif" stroke="#000" stroke-width="0.6">0</text>
<text x="336.19" y="360.80" font-size="19.2" text-anchor="middle" fill="#000" font-weight="normal" font-style="normal" font-family="'Liberation Sans', sans-serif" stroke="#000" stroke-width="0.6">1</text>
<text x="358.08" y="360.80" font-size="19.2" text-anchor="middle" fill="#000" font-weight="normal" font-style="normal" font-family="'Liberation Sans', sans-serif" stroke="#000" stroke-width="0.6">2</text>
<text x="379.97" y="360.80" font-size="19.2" text-anchor="middle" fill="#000" font-weight="normal" font-style="normal" font-family="'Liberation Sans', sans-serif" stroke="#000" stroke-width="0.6">3</text>
<text x="401.86" y="360.80" font-size="19.2" text-anchor="middle" fill="#000" font-weight="normal" font-style="normal" font-family="'Liberation Sans', sans-serif" stroke="#000" stroke-width="0.6">4</text>
<text x="423.74" y="360.80" font-size="19.2" text-anchor="middle" fill="#000" font-weight="normal" font-style="normal" font-family="'Liberation Sans', sans-serif" stroke="#000" stroke-width="0.6">5</text>
<text x="445.63" y="360.80" font-size="19.2" text-anchor="middle" fill="#000" font-weight="normal" font-style="normal" font-family="'Liberation Sans', sans-serif" stroke="#000" stroke-width="0.6">6</text>
<text x="467.52" y="360.80" font-size="19.2" text-anchor="middle" fill="#000" font-weight="normal" font-style="normal" font-family="'Liberation Sans', sans-serif" stroke="#000" stroke-width="0.6">7</text>
<text x="489.41" y="360.80" font-size="19.2" text-anchor="middle" fill="#000" font-weight="normal" font-style="normal" font-family="'Liberation Sans', sans-serif" stroke="#000" stroke-width="0.6">8</text>
<text x="511.30" y="360.80" font-size="19.2" text-anchor="middle" fill="#000" font-weight="normal" font-style="normal" font-family="'Liberation Sans', sans-serif" stroke="#000" stroke-width="0.6">9</text>
<text x="321.80" y="33.20" font-size="19.4" text-anchor="start" fill="#000" font-weight="normal" font-style="normal" font-family="'Liberation Sans', sans-serif" stroke="#000" stroke-width="0.6">(b)</text>
<text x="412.80" y="382.00" font-size="19.4" text-anchor="middle" fill="#000" font-weight="normal" font-style="normal" font-family="'Liberation Sans', sans-serif" stroke="#000" stroke-width="0.6">Fermi level (eV)</text>
<text x="277.80" y="170.00" font-size="19.4" text-anchor="middle" fill="#000" font-weight="normal" font-style="normal" font-family="'Liberation Sans', sans-serif" stroke="#000" stroke-width="0.6" transform="rotate(-90 277.8 170.0)">Formation energy (eV)</text>
<text x="431.00" y="36.00" font-size="15.5" text-anchor="start" fill="#2236d8" font-weight="normal" font-style="normal" font-family="'Liberation Sans', sans-serif" stroke="#2236d8" stroke-width="0.8">−2</text>
<text x="401.50" y="61.00" font-size="14" text-anchor="start" fill="#000" font-weight="normal" font-style="normal" font-family="'Liberation Sans', sans-serif" stroke="#000" stroke-width="0.6">−1</text>
<text x="355.00" y="157.00" font-size="15" text-anchor="start" fill="#2236d8" font-weight="normal" font-style="normal" font-family="'Liberation Sans', sans-serif" stroke="#2236d8" stroke-width="0.8">+1</text>
<text x="443.00" y="141.40" font-size="16.5" text-anchor="start" fill="#2236d8" font-weight="normal" font-style="normal" font-family="'DejaVu Sans', sans-serif" stroke="#2236d8" stroke-width="0.4"><tspan font-style="italic">q</tspan><tspan x="457.2">=</tspan><tspan x="473.2">0</tspan></text>
<text x="357.50" y="239.60" font-size="17.8" text-anchor="start" fill="#2236d8" font-weight="normal" font-style="normal" font-family="'Liberation Sans', sans-serif" stroke="#2236d8" stroke-width="0.9"><tspan font-style="italic">q</tspan> = +2</text>
<line x1="328.71" y1="729.80" x2="328.71" y2="725.20" stroke="#000" stroke-width="1.9"/>
<line x1="328.71" y1="401.10" x2="328.71" y2="405.70" stroke="#000" stroke-width="1.9"/>
<line x1="342.83" y1="729.80" x2="342.83" y2="721.80" stroke="#000" stroke-width="1.9"/>
<line x1="342.83" y1="401.10" x2="342.83" y2="409.10" stroke="#000" stroke-width="1.9"/>
<line x1="356.94" y1="729.80" x2="356.94" y2="725.20" stroke="#000" stroke-width="1.9"/>
<line x1="356.94" y1="401.10" x2="356.94" y2="405.70" stroke="#000" stroke-width="1.9"/>
<line x1="371.06" y1="729.80" x2="371.06" y2="721.80" stroke="#000" stroke-width="1.9"/>
<line x1="371.06" y1="401.10" x2="371.06" y2="409.10" stroke="#000" stroke-width="1.9"/>
<line x1="385.17" y1="729.80" x2="385.17" y2="725.20" stroke="#000" stroke-width="1.9"/>
<line x1="385.17" y1="401.10" x2="385.17" y2="405.70" stroke="#000" stroke-width="1.9"/>
<line x1="399.29" y1="729.80" x2="399.29" y2="721.80" stroke="#000" stroke-width="1.9"/>
<line x1="399.29" y1="401.10" x2="399.29" y2="409.10" stroke="#000" stroke-width="1.9"/>
<line x1="413.40" y1="729.80" x2="413.40" y2="725.20" stroke="#000" stroke-width="1.9"/>
<line x1="413.40" y1="401.10" x2="413.40" y2="405.70" stroke="#000" stroke-width="1.9"/>
<line x1="427.51" y1="729.80" x2="427.51" y2="721.80" stroke="#000" stroke-width="1.9"/>
<line x1="427.51" y1="401.10" x2="427.51" y2="409.10" stroke="#000" stroke-width="1.9"/>
<line x1="441.63" y1="729.80" x2="441.63" y2="725.20" stroke="#000" stroke-width="1.9"/>
<line x1="441.63" y1="401.10" x2="441.63" y2="405.70" stroke="#000" stroke-width="1.9"/>
<line x1="455.74" y1="729.80" x2="455.74" y2="721.80" stroke="#000" stroke-width="1.9"/>
<line x1="455.74" y1="401.10" x2="455.74" y2="409.10" stroke="#000" stroke-width="1.9"/>
<line x1="469.86" y1="729.80" x2="469.86" y2="725.20" stroke="#000" stroke-width="1.9"/>
<line x1="469.86" y1="401.10" x2="469.86" y2="405.70" stroke="#000" stroke-width="1.9"/>
<line x1="483.97" y1="729.80" x2="483.97" y2="721.80" stroke="#000" stroke-width="1.9"/>
<line x1="483.97" y1="401.10" x2="483.97" y2="409.10" stroke="#000" stroke-width="1.9"/>
<line x1="498.09" y1="729.80" x2="498.09" y2="725.20" stroke="#000" stroke-width="1.9"/>
<line x1="498.09" y1="401.10" x2="498.09" y2="405.70" stroke="#000" stroke-width="1.9"/>
<line x1="314.60" y1="702.41" x2="319.20" y2="702.41" stroke="#000" stroke-width="1.9"/>
<line x1="512.20" y1="702.41" x2="507.60" y2="702.41" stroke="#000" stroke-width="1.9"/>
<line x1="314.60" y1="675.02" x2="322.60" y2="675.02" stroke="#000" stroke-width="1.9"/>
<line x1="512.20" y1="675.02" x2="504.20" y2="675.02" stroke="#000" stroke-width="1.9"/>
<line x1="314.60" y1="647.62" x2="319.20" y2="647.62" stroke="#000" stroke-width="1.9"/>
<line x1="512.20" y1="647.62" x2="507.60" y2="647.62" stroke="#000" stroke-width="1.9"/>
<line x1="314.60" y1="620.23" x2="322.60" y2="620.23" stroke="#000" stroke-width="1.9"/>
<line x1="512.20" y1="620.23" x2="504.20" y2="620.23" stroke="#000" stroke-width="1.9"/>
<line x1="314.60" y1="592.84" x2="319.20" y2="592.84" stroke="#000" stroke-width="1.9"/>
<line x1="512.20" y1="592.84" x2="507.60" y2="592.84" stroke="#000" stroke-width="1.9"/>
<line x1="314.60" y1="565.45" x2="322.60" y2="565.45" stroke="#000" stroke-width="1.9"/>
<line x1="512.20" y1="565.45" x2="504.20" y2="565.45" stroke="#000" stroke-width="1.9"/>
<line x1="314.60" y1="538.06" x2="319.20" y2="538.06" stroke="#000" stroke-width="1.9"/>
<line x1="512.20" y1="538.06" x2="507.60" y2="538.06" stroke="#000" stroke-width="1.9"/>
<line x1="314.60" y1="510.67" x2="322.60" y2="510.67" stroke="#000" stroke-width="1.9"/>
<line x1="512.20" y1="510.67" x2="504.20" y2="510.67" stroke="#000" stroke-width="1.9"/>
<line x1="314.60" y1="483.27" x2="319.20" y2="483.27" stroke="#000" stroke-width="1.9"/>
<line x1="512.20" y1="483.27" x2="507.60" y2="483.27" stroke="#000" stroke-width="1.9"/>
<line x1="314.60" y1="455.88" x2="322.60" y2="455.88" stroke="#000" stroke-width="1.9"/>
<line x1="512.20" y1="455.88" x2="504.20" y2="455.88" stroke="#000" stroke-width="1.9"/>
<line x1="314.60" y1="428.49" x2="319.20" y2="428.49" stroke="#000" stroke-width="1.9"/>
<line x1="512.20" y1="428.49" x2="507.60" y2="428.49" stroke="#000" stroke-width="1.9"/>
<line x1="314.60" y1="675.02" x2="512.20" y2="675.02" stroke="#000" stroke-width="2.0"/>
<polyline points="316.30,461.91 342.83,539.70 371.06,599.96 399.29,638.86 427.51,656.94 455.74,667.68 483.97,673.21 512.20,675.02" fill="none" stroke="#2236d8" stroke-width="2.4" stroke-dasharray="5 2.3"/>
<polyline points="316.30,675.02 342.83,673.92 371.06,668.99 399.29,659.13 427.51,643.24 455.74,610.37 483.97,561.62 512.20,499.16" fill="none" stroke="#000" stroke-width="2.8" stroke-linejoin="round"/>
<circle cx="316.30" cy="675.02" r="3.5" fill="#000"/>
<circle cx="342.83" cy="673.92" r="3.5" fill="#000"/>
<circle cx="371.06" cy="668.99" r="3.5" fill="#000"/>
<circle cx="399.29" cy="659.13" r="3.5" fill="#000"/>
<circle cx="427.51" cy="643.24" r="3.5" fill="#000"/>
<circle cx="455.74" cy="610.37" r="3.5" fill="#000"/>
<circle cx="483.97" cy="561.62" r="3.5" fill="#000"/>
<circle cx="512.20" cy="499.16" r="3.5" fill="#000"/>
<rect x="312.80" y="458.41" width="7.0" height="7.0" fill="#fff" stroke="#2236d8" stroke-width="1.8"/>
<rect x="339.33" y="536.20" width="7.0" height="7.0" fill="#fff" stroke="#2236d8" stroke-width="1.8"/>
<rect x="367.56" y="596.46" width="7.0" height="7.0" fill="#fff" stroke="#2236d8" stroke-width="1.8"/>
<rect x="395.79" y="635.36" width="7.0" height="7.0" fill="#fff" stroke="#2236d8" stroke-width="1.8"/>
<rect x="424.01" y="653.44" width="7.0" height="7.0" fill="#fff" stroke="#2236d8" stroke-width="1.8"/>
<rect x="452.24" y="664.18" width="7.0" height="7.0" fill="#fff" stroke="#2236d8" stroke-width="1.8"/>
<rect x="480.47" y="669.71" width="7.0" height="7.0" fill="#fff" stroke="#2236d8" stroke-width="1.8"/>
<rect x="508.70" y="671.52" width="7.0" height="7.0" fill="#fff" stroke="#2236d8" stroke-width="1.8"/>
<rect x="314.60" y="401.10" width="197.60" height="328.70" fill="none" stroke="#000" stroke-width="2.1"/>
<text x="307.50" y="738.00" font-size="19.2" text-anchor="end" fill="#000" font-weight="normal" font-style="normal" font-family="'Liberation Sans', sans-serif" stroke="#000" stroke-width="0.6">-1</text>
<text x="307.50" y="683.22" font-size="19.2" text-anchor="end" fill="#000" font-weight="normal" font-style="normal" font-family="'Liberation Sans', sans-serif" stroke="#000" stroke-width="0.6">0</text>
<text x="307.50" y="628.43" font-size="19.2" text-anchor="end" fill="#000" font-weight="normal" font-style="normal" font-family="'Liberation Sans', sans-serif" stroke="#000" stroke-width="0.6">1</text>
<text x="307.50" y="573.65" font-size="19.2" text-anchor="end" fill="#000" font-weight="normal" font-style="normal" font-family="'Liberation Sans', sans-serif" stroke="#000" stroke-width="0.6">2</text>
<text x="307.50" y="518.87" font-size="19.2" text-anchor="end" fill="#000" font-weight="normal" font-style="normal" font-family="'Liberation Sans', sans-serif" stroke="#000" stroke-width="0.6">3</text>
<text x="307.50" y="464.08" font-size="19.2" text-anchor="end" fill="#000" font-weight="normal" font-style="normal" font-family="'Liberation Sans', sans-serif" stroke="#000" stroke-width="0.6">4</text>
<text x="307.50" y="409.30" font-size="19.2" text-anchor="end" fill="#000" font-weight="normal" font-style="normal" font-family="'Liberation Sans', sans-serif" stroke="#000" stroke-width="0.6">5</text>
<text x="323.00" y="429.00" font-size="19.4" text-anchor="start" fill="#000" font-weight="normal" font-style="normal" font-family="'Liberation Sans', sans-serif" stroke="#000" stroke-width="0.6">(d)</text>
<text x="412.80" y="777.40" font-size="19.4" text-anchor="middle" fill="#000" font-weight="normal" font-style="normal" font-family="'Liberation Sans', sans-serif" stroke="#000" stroke-width="0.6">Atomic configuration</text>
<text x="282.40" y="565.70" font-size="19.4" text-anchor="middle" fill="#000" font-weight="normal" font-style="normal" font-family="'Liberation Sans', sans-serif" stroke="#000" stroke-width="0.6" transform="rotate(-90 282.4 565.7)">Energy (eV)</text>
<text x="354.00" y="543.90" font-size="17.8" text-anchor="start" fill="#2236d8" font-weight="normal" font-style="normal" font-family="'Liberation Sans', sans-serif" stroke="#2236d8" stroke-width="0.9"><tspan font-style="italic">q</tspan> = +2</text>
<text x="445.60" y="542.50" font-size="16.5" text-anchor="start" fill="#000" font-weight="normal" font-style="normal" font-family="'DejaVu Sans', sans-serif" stroke="#000" stroke-width="0.4"><tspan font-style="italic">q</tspan><tspan x="460.0">=</tspan><tspan x="475.9">0</tspan></text>
<text x="310.80" y="755.30" font-size="19" text-anchor="start" fill="#000" font-weight="bold" font-style="normal" font-family="'Liberation Serif', serif" stroke="#000" stroke-width="0.3">{<tspan font-style="italic">R</tspan><tspan font-size="11.5" dy="-7.5">0</tspan><tspan dy="7.5">}</tspan></text>
<text x="518.50" y="755.30" font-size="19" text-anchor="end" fill="#000" font-weight="bold" font-style="normal" font-family="'Liberation Serif', serif" stroke="#000" stroke-width="0.3">{<tspan font-style="italic">R</tspan><tspan font-size="11.5" dy="-7.5">+2</tspan><tspan dy="7.5">}</tspan></text>
</svg></body></html>
